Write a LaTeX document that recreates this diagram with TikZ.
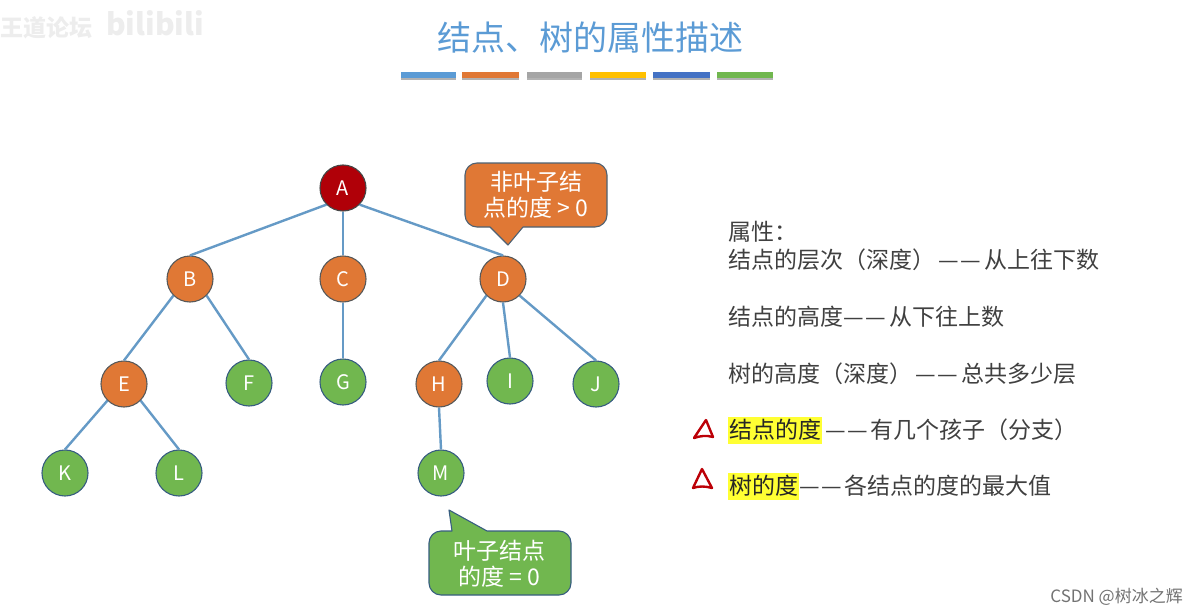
\documentclass[tikz,border=0pt]{standalone}
\usepackage{fontspec}
\setmainfont{Noto Sans CJK SC}
\usepackage{tikz}
\definecolor{tblue}{HTML}{5B9BD5}
\definecolor{tlink}{HTML}{659AC6}
\definecolor{torange}{HTML}{E07835}
\definecolor{tgreen}{HTML}{71B74F}
\definecolor{tred}{HTML}{B00008}
\definecolor{tgrey}{HTML}{A5A5A5}
\definecolor{tyellow}{HTML}{FFC000}
\definecolor{tdblue}{HTML}{4472C4}
\definecolor{txt}{HTML}{404040}
\definecolor{hl}{HTML}{FFFF33}
\newcommand{\fs}[1]{\fontsize{#1}{#1}\selectfont}
\newcommand{\dd}{\kern3.5pt—\kern1.5pt—\kern3pt}
\tikzset{
  treenode/.style={circle,minimum size=46pt,inner sep=0pt,line width=1.1pt,text=white,font=\fs{20}},
  rootn/.style={treenode,draw=black!45!gray,fill=tred},
  midn/.style={treenode,draw=black!30!gray,fill=torange},
  leafn/.style={treenode,draw=tblue!60!black,fill=tgreen},
  link/.style={draw=tlink,line width=2.4pt},
  bar/.style={line width=6pt},
  shadowbar/.style={line width=6pt,draw=black!30},
  item/.style={anchor=west,inner sep=0pt,text=txt,font=\fs{23},minimum height=27pt},
  redmark/.style={draw=tred!85!red,line width=2.4pt,line cap=round,line join=round},
  callout/.style={line width=1.1pt,line join=round},
  calltext/.style={text=white,align=center,font=\fs{23},inner sep=0pt}
}
\begin{document}
\begin{tikzpicture}[x=1pt,y=-1pt]
\useasboundingbox (0,0) rectangle (1199,615);
\fill[white] (0,0) rectangle (1199,615);
% watermark
\node[text=black!7,font=\fs{23}\bfseries,anchor=west,inner sep=0pt] (wm1) at (0,28) {王道论坛};
\node[text=black!7,font=\fs{30}\bfseries,anchor=west,inner sep=0pt] (wm2) at (106,23) {bilibili};
% title
\node[text=tblue,font=\fs{34},inner sep=0pt] (title) at (590.5,38) {结点、树的属性描述};
% bars
\foreach \a/\b/\c in {401/456/tblue,462/519/torange,527/582/tgrey,590/646/tyellow,653/710/tdblue,717/773/tgreen}{
  \draw[shadowbar] (\a,77) -- (\b,77);
  \draw[bar,draw=\c] (\a,75) -- (\b,75);
}
% tree
\node[rootn] (A) at (343,188) {A};
\node[midn] (B) at (190,279) {B};
\node[midn] (C) at (343,279) {C};
\node[midn] (D) at (503,279) {D};
\node[midn] (E) at (124,384) {E};
\node[leafn] (F) at (249,383) {F};
\node[leafn] (G) at (343,382) {G};
\node[midn] (H) at (439,384) {H};
\node[leafn] (I) at (510,381) {I};
\node[leafn] (J) at (596,384) {J};
\node[leafn] (K) at (65,473) {K};
\node[leafn] (L) at (179,473) {L};
\node[leafn] (M) at (441,473) {M};
\draw[link] (A.south west) -- (B.north);
\draw[link] (A.south) -- (C.north);
\draw[link] (A.south east) -- (D.north);
\draw[link] (B.south west) -- (E.north);
\draw[link] (B.south east) -- (F.north);
\draw[link] (C.south) -- (G.north);
\draw[link] (D.south west) -- (H.north);
\draw[link] (D.south) -- (I.north);
\draw[link] (D.south east) -- (J.north);
\draw[link] (E.south west) -- (K.north);
\draw[link] (E.south east) -- (L.north);
\draw[link] (H.south) -- (M.north);
% callouts
\draw[callout,fill=torange,draw=black!50!tblue!60!gray]
  (477,163) -- (595,163) arc[start angle=-90,end angle=0,radius=12] -- (607,215)
  arc[start angle=0,end angle=90,radius=12] -- (523,227) -- (508,245) -- (490,227) -- (477,227)
  arc[start angle=90,end angle=180,radius=12] -- (465,175) arc[start angle=180,end angle=270,radius=12] -- cycle;
\node[calltext] (c1) at (536,195) {非叶子结\\[3pt]点的度 > 0};
\draw[callout,fill=tgreen,draw=tblue!60!black]
  (441,531) -- (452,531) -- (449,510) -- (487,531) -- (559,531) arc[start angle=-90,end angle=0,radius=12] -- (571,583)
  arc[start angle=0,end angle=90,radius=12] -- (441,595)
  arc[start angle=90,end angle=180,radius=12] -- (429,543) arc[start angle=180,end angle=270,radius=12] -- cycle;
\node[calltext] (c2) at (499,564) {叶子结点\\[3pt]的度 = 0};
% right text
\node[item] (t0) at (728,232) {属性：};
\node[item] (t1) at (728,260) {结点的层次（深度）\dd 从上往下数};
\node[item] (t2) at (728,317) {结点的高度\kern-3pt\dd 从下往上数};
\node[item] (t3) at (728,374) {树的高度（深度）\dd 总共多少层};
\node[item,fill=hl,text=black!85,minimum height=27pt,minimum width=94pt] (t4a) at (728,430) {结点的度};
\node[item,anchor=west,xshift=-1pt] (t4b) at (t4a.east) {\dd 有几个孩子（分支）};
\node[item,fill=hl,text=black!85,minimum height=27pt,minimum width=71pt] (t5a) at (728,486) {树的度};
\node[item,anchor=west,xshift=-4pt] (t5b) at (t5a.east) {\dd 各结点的度的最大值};
% red marks
\draw[redmark] (706,420) -- (694,438) .. controls (700,436) and (706,435) .. (713,437) -- (706,420);
\draw[redmark] (702,469) -- (693,488) .. controls (699,486) and (705,486) .. (712,488) -- (702,469);
% credit
\node[text=black!55,font=\fs{17},anchor=east,inner sep=0pt] (csdn) at (1183,597) {CSDN @树冰之辉};
\end{tikzpicture}
\end{document}
